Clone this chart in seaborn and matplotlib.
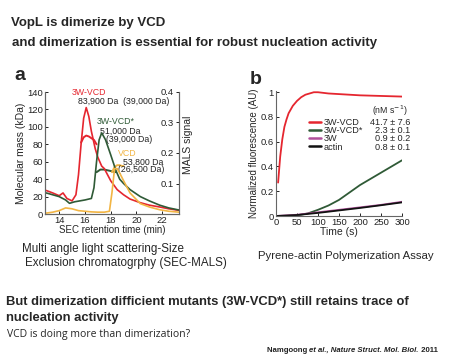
import numpy as np
import pandas as pd
import matplotlib
matplotlib.use("Agg")
import matplotlib.pyplot as plt
import seaborn as sns

# ---------------- data (panel a: SEC-MALS) ----------------
red_time = [13.0, 13.5, 14.0, 14.3, 14.6, 15.0, 15.3, 15.5, 15.7, 15.9, 16.1, 16.3, 16.5,
            16.8, 17.0, 17.3, 17.5, 18.0, 18.5, 19.0, 19.5, 20.3, 21.0, 21.8, 22.5, 23.3]
red_mals = [0.077, 0.069, 0.060, 0.069, 0.051, 0.043, 0.063, 0.129, 0.229, 0.314, 0.349, 0.320,
            0.271, 0.214, 0.186, 0.157, 0.149, 0.109, 0.080, 0.063, 0.049, 0.037, 0.029, 0.023,
            0.017, 0.012]
green_time = [13.0, 13.5, 14.0, 14.5, 14.8, 15.2, 15.6, 16.0, 16.5, 16.7, 16.9, 17.1, 17.3, 17.6,
              18.0, 18.4, 18.7, 19.0, 19.5, 20.3, 21.0, 21.8, 22.5, 23.3]
green_mals = [0.069, 0.063, 0.057, 0.046, 0.035, 0.040, 0.043, 0.046, 0.051, 0.086, 0.171, 0.243,
              0.266, 0.243, 0.194, 0.143, 0.114, 0.100, 0.080, 0.057, 0.043, 0.029, 0.020, 0.013]
orange_time = [13.0, 13.5, 14.0, 14.5, 15.0, 15.5, 16.0, 16.5, 17.0, 17.5, 17.9, 18.1, 18.3, 18.5,
               18.7, 19.0, 19.5, 20.3, 21.0, 21.8, 22.5, 23.3]
orange_mals = [0.003, 0.006, 0.011, 0.020, 0.017, 0.011, 0.009, 0.007, 0.006, 0.006, 0.009, 0.071,
               0.149, 0.149, 0.134, 0.109, 0.069, 0.034, 0.023, 0.014, 0.009, 0.006]
red_mass_time = [15.7, 15.9, 16.1, 16.3, 16.5, 16.7, 16.9]
red_mass = [82, 88, 90, 89, 87, 85, 80]
green_mass_time = [16.9, 17.2, 17.5, 17.8, 18.1, 18.4]
green_mass = [48, 51, 51, 50, 49, 48]
orange_mass_time = [18.1, 18.3, 18.5, 18.7, 18.9, 19.0]
orange_mass = [48, 54, 56, 56, 55, 55]

# ---------------- data (panel b: pyrene-actin) ----------------
red_t = [5, 10, 15, 20, 25, 30, 40, 50, 60, 70, 80, 90, 100, 125, 150, 200, 250, 300]
red_f = [0.27, 0.48, 0.62, 0.72, 0.78, 0.83, 0.89, 0.93, 0.96, 0.98, 0.99, 1.0, 1.0, 0.99,
         0.985, 0.975, 0.97, 0.965]
green_t = [0, 25, 50, 75, 100, 125, 150, 175, 200, 225, 250, 275, 300]
green_f = [0.0, 0.0, 0.005, 0.02, 0.05, 0.085, 0.13, 0.19, 0.25, 0.30, 0.35, 0.40, 0.45]
w3_t = [0, 50, 100, 150, 200, 250, 300]
w3_f = [0.0, 0.01, 0.03, 0.05, 0.07, 0.09, 0.115]
actin_t = [0, 50, 100, 150, 200, 250, 300]
actin_f = [0.0, 0.008, 0.025, 0.045, 0.065, 0.087, 0.11]
legend_names = ["3W-VCD", "3W-VCD*", "3W", "actin"]
legend_rates = ["41.7 \u00b1 7.6", "2.3 \u00b1 0.1", "0.9 \u00b1 0.2", "0.8 \u00b1 0.1"]

RED = "#e5262f"
GREEN = "#2f5a36"
ORANGE = "#f2b544"
PINK = "#b0509a"
BLACK = "#111111"

sns.set_theme(style="ticks")
plt.rcParams["font.family"] = ["Liberation Sans", "DejaVu Sans"]

W, H = 474, 355
fig = plt.figure(figsize=(W / 100, H / 100), dpi=100)


def fx(px):
    return px / W


def fy(py):
    return 1 - py / H


# ---------------- panel a ----------------
ax = fig.add_axes([fx(45), fy(214), fx(179) - fx(45), fy(92) - fy(214)])
ax2 = ax.twinx()
for t, v, c in [(red_time, red_mals, RED), (green_time, green_mals, GREEN),
                (orange_time, orange_mals, ORANGE)]:
    sns.lineplot(x=t, y=v, ax=ax2, color=c, lw=1.2, sort=False)
for t, v, c in [(red_mass_time, red_mass, RED), (green_mass_time, green_mass, GREEN),
                (orange_mass_time, orange_mass, ORANGE)]:
    sns.lineplot(x=t, y=v, ax=ax, color=c, lw=1.4, sort=False)
ax.set_xlim(12.9, 23.3)
ax.set_ylim(0, 140)
ax2.set_ylim(0, 0.4)
ax.set_xticks([14, 16, 18, 20, 22])
ax.set_yticks(range(0, 141, 20))
ax2.set_yticks([0.1, 0.2, 0.3, 0.4])
ax2.set_yticklabels(["0.1", "0.2", "0.3", "0.4"])
ax.tick_params(labelsize=6.8, length=2.5, width=0.7, direction="in", pad=1.5, colors="#222222")
ax2.tick_params(axis="y", labelsize=6.8, length=2.5, width=0.7, direction="in", pad=-4,
                colors="#222222")
for lbl in ax2.get_yticklabels():
    lbl.set_horizontalalignment("right")
for a in (ax, ax2):
    for s in a.spines.values():
        s.set_color("#666666")
        s.set_linewidth(0.8)
    a.spines["top"].set_visible(False)
ax.set_xlabel("SEC retention time (min)", fontsize=7, labelpad=0)
ax.set_ylabel("Molecular mass (kDa)", fontsize=7.5, labelpad=1)
ax2.set_ylabel("MALS signal", fontsize=7.5)
ax2.yaxis.set_label_coords(1.03, 0.57)

ann = dict(fontsize=6.3, clip_on=False, va="center")
ax.text(16.3, 139, "3W-VCD", color=RED, ha="center", **ann)
ax.text(15.46, 128.6, "83,900 Da  (39,000 Da)", color="#222222", ha="left", **ann)
ax.text(16.93, 105.6, "3W-VCD*", color=GREEN, ha="left", **ann)
ax.text(17.16, 95.3, "51,000 Da", color="#222222", ha="left", **ann)
ax.text(17.63, 86, "(39,000 Da)", color="#222222", ha="left", **ann)
ax.text(18.56, 70, "VCD", color=ORANGE, ha="left", **ann)
ax.text(18.95, 59.7, "53,800 Da", color="#222222", ha="left", **ann)
ax.text(18.56, 50.5, "(26,500 Da)", color="#222222", ha="left", **ann)

# ---------------- panel b ----------------
bx = fig.add_axes([fx(276), fy(216), fx(402) - fx(276), fy(91) - fy(216)])
lines = []
for t, v, c in [(red_t, red_f, RED), (green_t, green_f, GREEN),
                (w3_t, w3_f, PINK), (actin_t, actin_f, BLACK)]:
    sns.lineplot(x=t, y=v, ax=bx, color=c, lw=1.3, sort=False)
    lines.append(bx.get_lines()[-1])
bx.set_xlim(0, 300)
bx.set_ylim(0, 1.01)
bx.set_xticks(range(0, 301, 50))
bx.set_yticks([0, 0.2, 0.4, 0.6, 0.8, 1.0])
bx.set_yticklabels(["0", "0.2", "0.4", "0.6", "0.8", "1"])
bx.tick_params(labelsize=6.8, length=2.5, width=0.7, direction="in", pad=1.5, colors="#222222")
for s in bx.spines.values():
    s.set_color("#666666")
    s.set_linewidth(0.8)
sns.despine(ax=bx)
bx.set_xlabel("Time (s)", fontsize=7.5, labelpad=0)
bx.set_ylabel("Normalized fluorescence (AU)", fontsize=7, labelpad=1)

leg = bx.legend(lines, legend_names, loc="upper left", bbox_to_anchor=(0.265, 0.785),
                frameon=False, fontsize=6.6, handlelength=1.3, handletextpad=0.3,
                labelspacing=-0.08, borderpad=0, borderaxespad=0)
for lh in leg.get_lines():
    lh.set_linewidth(1.8)
fig.text(fx(408), fy(111), "(nM s$^{-1}$)", fontsize=6.3, ha="right", va="center")
fig.canvas.draw()
inv = fig.transFigure.inverted()
for txt, rate in zip(leg.get_texts(), legend_rates):
    bb = txt.get_window_extent()
    yc = inv.transform((0, (bb.y0 + bb.y1) / 2))[1]
    fig.text(fx(410), yc, rate, fontsize=6.6, ha="right", va="center")

# ---------------- slide text ----------------
fig.text(fx(11), fy(23), "VopL is dimerize by VCD", fontsize=9.5, fontweight="bold", va="center")
fig.text(fx(12), fy(43), "and dimerization is essential for robust nucleation activity",
         fontsize=9.5, fontweight="bold", va="center")
fig.text(fx(14), fy(75), "a", fontsize=14, fontweight="bold", va="center")
fig.text(fx(250), fy(80), "b", fontsize=14, fontweight="bold", va="center")
fig.text(fx(22), fy(249), "Multi angle light scattering-Size", fontsize=8.4, va="center")
fig.text(fx(25), fy(263), "Exclusion chromatogrphy (SEC-MALS)", fontsize=8.4, va="center")
fig.text(fx(258), fy(256), "Pyrene-actin Polymerization Assay", fontsize=8.2, va="center")
fig.text(fx(6), fy(302), "But dimerization difficient mutants (3W-VCD*) still retains trace of",
         fontsize=9.4, fontweight="bold", va="center")
fig.text(fx(6), fy(318), "nucleation activity", fontsize=9.4, fontweight="bold", va="center")
fig.text(fx(7), fy(334), "VCD is doing more than dimerization?", fontsize=7.5, va="center",
         family=["Open Sans", "DejaVu Sans"])

# citation built from consecutive pieces, sharing one baseline
pieces = [("Namgoong ", "normal"), ("et al., Nature Struct. Mol. Biol.", "italic"),
          (" 2011", "normal")]
x0 = fx(267)
fig.canvas.draw()
for s, st in pieces:
    t = fig.text(x0, fy(352), s, fontsize=5.6, fontweight="bold", style=st, va="baseline",
                 color="#222222")
    bb = t.get_window_extent(renderer=fig.canvas.get_renderer())
    x0 = inv.transform((bb.x1, 0))[0]

fig.savefig("out.png", dpi=100)
